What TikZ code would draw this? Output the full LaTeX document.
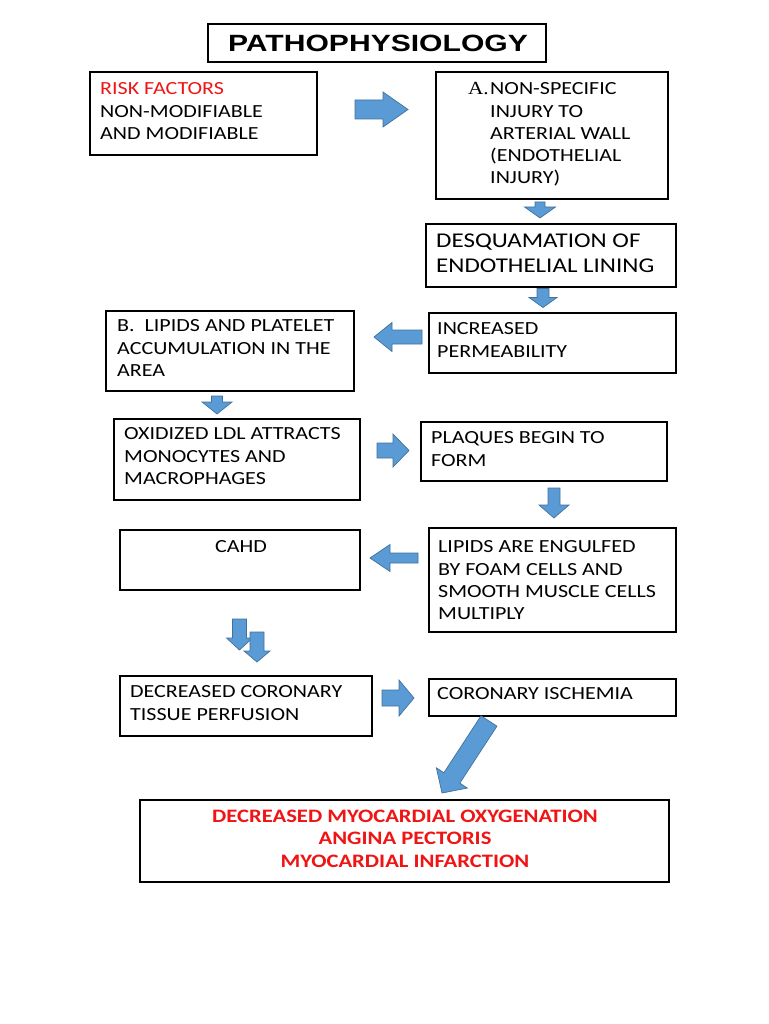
\documentclass[tikz,border=0pt]{standalone}
\usepackage{fontspec}
\usepackage{graphicx}
\setmainfont{Carlito}[FakeStretch=1.19]
\newfontfamily\titlefont{Liberation Sans}[FakeStretch=1.28]
\newfontfamily\serifA{Liberation Serif}[FakeStretch=1.15]
\definecolor{arrfill}{RGB}{91,155,213}
\definecolor{arrline}{RGB}{65,113,156}
\definecolor{riskred}{RGB}{240,20,20}
\newcommand\barr[8]{%
\begin{scope}[shift={(#2,#3)},rotate=#4]
\filldraw[barrow] ({-#5/2},{-#6/2}) -- ({#5/2-#8},{-#6/2}) -- ({#5/2-#8},{-#7/2}) -- ({#5/2},0) -- ({#5/2-#8},{#7/2}) -- ({#5/2-#8},{#6/2}) -- ({-#5/2},{#6/2}) -- cycle;
\coordinate (#1) at (0,0);
\end{scope}}
\begin{document}
\begin{tikzpicture}[x=1pt,y=-1pt,
  box/.style={draw=black,line width=1.2pt,inner sep=0pt,outer sep=0pt,anchor=north west},
  txt/.style={inner sep=0pt,anchor=north west,align=left,font=\fontsize{18.5}{22.3}\selectfont},
  barrow/.style={fill=arrfill,draw=arrline,line width=0.7pt,line join=miter}]
\fill[white] (0,0) rectangle (768,1024);
\useasboundingbox (0,0) rectangle (768,1024);
% title
\node[box,minimum width=338pt,minimum height=38pt] (title) at (208,24) {};
\node[inner sep=0pt,font=\titlefont\bfseries\fontsize{23.5}{26}\selectfont] (titlet) at (378,43) {PATHOPHYSIOLOGY};
% risk factors
\node[box,minimum width=227pt,minimum height=83pt] (risk) at (90,72) {};
\node[txt] (riskt) at (100,82.5) {\rule{0pt}{12pt}\textcolor{riskred}{RISK FACTORS}\\NON-MODIFIABLE\\AND MODIFIABLE};
% A box
\node[box,minimum width=232pt,minimum height=127pt] (inj) at (436,72) {};
\node[txt,anchor=north east] (injA) at (489,82.5) {\rule{0pt}{12pt}{\serifA A.}};
\node[txt] (injt) at (490,82.5) {\rule{0pt}{12pt}NON-SPECIFIC\\INJURY TO\\ARTERIAL WALL\\(ENDOTHELIAL\\INJURY)};
% desquamation
\node[box,minimum width=250pt,minimum height=63pt] (desq) at (426,224) {};
\node[txt,font=\fontsize{21}{25}\selectfont] (desqt) at (436,234) {\rule{0pt}{13pt}DESQUAMATION OF\\ENDOTHELIAL LINING};
% increased permeability
\node[box,minimum width=247pt,minimum height=60pt] (perm) at (429,313) {};
\node[txt] (permt) at (437,322.5) {\rule{0pt}{12pt}INCREASED\\PERMEABILITY};
% B box
\node[box,minimum width=248pt,minimum height=80pt] (lip) at (106,311) {};
\node[txt] (lipt) at (117,319.5) {\rule{0pt}{12pt}B.\ \ LIPIDS AND PLATELET\\ACCUMULATION IN THE\\AREA};
% oxidized
\node[box,minimum width=246pt,minimum height=81pt] (oxi) at (114,419) {};
\node[txt] (oxit) at (124,427.5) {\rule{0pt}{12pt}OXIDIZED LDL ATTRACTS\\MONOCYTES AND\\MACROPHAGES};
% plaques
\node[box,minimum width=246pt,minimum height=59pt] (plq) at (421,422) {};
\node[txt] (plqt) at (431,431.5) {\rule{0pt}{12pt}PLAQUES BEGIN TO\\FORM};
% lipids engulfed
\node[box,minimum width=247pt,minimum height=104pt] (eng) at (429,528) {};
\node[txt] (engt) at (438,540.5) {\rule{0pt}{12pt}LIPIDS ARE ENGULFED\\BY FOAM CELLS AND\\SMOOTH MUSCLE CELLS\\MULTIPLY};
% CAHD
\node[box,minimum width=240pt,minimum height=60pt] (cahd) at (120,530) {};
\node[txt,anchor=north] (cahdt) at (241,540.5) {\rule{0pt}{12pt}CAHD};
% decreased coronary
\node[box,minimum width=252pt,minimum height=60pt] (dec) at (120,676) {};
\node[txt] (dect) at (130,685.5) {\rule{0pt}{12pt}DECREASED CORONARY\\TISSUE PERFUSION};
% coronary ischemia
\node[box,minimum width=247pt,minimum height=37pt] (isch) at (429,679) {};
\node[txt] (ischt) at (437,687.5) {\rule{0pt}{12pt}CORONARY ISCHEMIA};
% bottom
\node[box,minimum width=529pt,minimum height=82pt] (res) at (140,800) {};
\node[txt,anchor=north,align=center,font=\bfseries\fontsize{19}{22.5}\selectfont,text=riskred] (rest) at (405,809.5) {\rule{0pt}{12pt}DECREASED MYOCARDIAL OXYGENATION\\ANGINA PECTORIS\\MYOCARDIAL INFARCTION};
% arrows
\barr{a1}{381.5}{109.5}{0}{53}{19}{35}{25}
\barr{a2}{540}{210}{-90}{16}{10}{31}{11}
\barr{a3}{543}{298}{-90}{19}{12}{28}{10}
\barr{a4}{398}{337}{180}{48}{14}{29}{18}
\barr{a5}{217}{405}{-90}{18}{11}{30}{12}
\barr{a6}{393}{450.5}{0}{32}{15}{33}{16}
\barr{a7}{554}{503}{-90}{30}{12}{30}{13}
\barr{a8}{394}{558}{180}{48}{10}{27}{20}
\barr{a9}{239.5}{634.5}{-90}{31}{14}{26}{12}
\barr{a10}{257}{647}{-90}{30}{14}{26}{11}
\barr{a11}{398}{698}{0}{32}{16}{36}{15}
\barr{a12}{465.5}{757}{-123.1}{86}{19}{37}{18}
\end{tikzpicture}
\end{document}
